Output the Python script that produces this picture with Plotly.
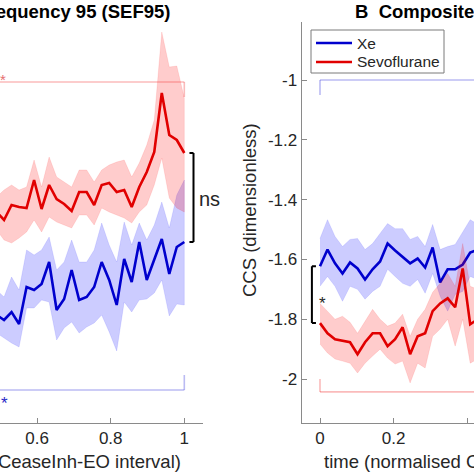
import plotly.graph_objects as go

W = H = 474
FONT = "Liberation Sans, Arial, Helvetica, sans-serif"
TXT = "#262626"
AX = "#8a8a8a"

# ---------------- data ----------------
# normalised time samples (50 samples over 0..1, only visible part kept)
t_left = [0.4898, 0.5102, 0.5306, 0.5510, 0.5714, 0.5918, 0.6122, 0.6327, 0.6531,
          0.6735, 0.6939, 0.7143, 0.7347, 0.7551, 0.7755, 0.7959, 0.8163, 0.8367,
          0.8571, 0.8776, 0.8980, 0.9184, 0.9388, 0.9592, 0.9796, 1.0]
t_right = [0.0, 0.0204, 0.0408, 0.0612, 0.0816, 0.1020, 0.1224, 0.1429, 0.1633,
           0.1837, 0.2041, 0.2245, 0.2449, 0.2653, 0.2857, 0.3061, 0.3265, 0.3469,
           0.3673, 0.3878, 0.4082, 0.4286]

# Panel A: SEF95
sef_sevo_mean = [20.55, 20.15, 20.9, 20.8, 20.75, 22.15, 20.7, 21.9, 21.2, 20.95, 20.6, 21.55, 21.55,
                 20.9, 21.9, 22.0, 21.55, 21.65, 20.8, 21.8, 22.55, 23.55, 26.5, 24.4, 24.15, 23.5]
sef_sevo_hi = [21.3, 21.65, 21.9, 21.65, 21.8, 23.15, 21.8, 23.3, 22.3, 22.05, 21.8, 22.65, 22.65,
               22.05, 22.65, 22.9, 23.05, 23.15, 22.3, 23.0, 23.9, 25.15, 29.55, 27.8, 27.85, 26.25]
sef_sevo_lo = [19.65, 19.15, 19.0, 19.25, 19.55, 20.15, 19.55, 20.3, 20.05, 19.9, 19.75, 20.4, 20.4,
               19.9, 20.75, 20.55, 20.4, 20.25, 20.0, 20.55, 20.9, 21.9, 23.25, 21.25, 20.75, 20.55]
sef_xe_mean = [15.4, 15.15, 15.55, 14.95, 16.8, 16.65, 16.95, 18.05, 15.65, 16.2, 17.65, 16.15, 16.3,
               16.8, 18.05, 17.15, 15.9, 18.2, 17.05, 19.05, 17.15, 18.15, 19.2, 17.45, 18.8, 19.05]
sef_xe_hi = [16.65, 16.3, 17.3, 16.65, 18.65, 18.4, 18.65, 19.3, 17.65, 18.05, 19.15, 18.05, 18.05,
             18.65, 20.0, 18.9, 18.05, 20.05, 18.9, 20.0, 19.15, 19.9, 21.05, 19.75, 21.4, 22.15]
sef_xe_lo = [14.5, 14.25, 14.0, 13.8, 15.75, 15.75, 16.15, 16.05, 14.15, 14.75, 15.05, 14.5, 14.8,
             15.0, 15.4, 14.55, 13.6, 16.05, 15.55, 16.15, 16.2, 16.5, 17.15, 15.35, 15.95, 15.9]

# Panel B: CCS
ccs_xe_mean = [-1.623, -1.567, -1.613, -1.647, -1.61, -1.63, -1.667, -1.633, -1.607, -1.547, -1.57,
               -1.593, -1.613, -1.597, -1.627, -1.56, -1.677, -1.633, -1.633, -1.617, -1.577, -1.567]
ccs_xe_hi = [-1.53, -1.467, -1.523, -1.557, -1.533, -1.53, -1.567, -1.547, -1.513, -1.48, -1.497,
             -1.497, -1.533, -1.523, -1.557, -1.483, -1.567, -1.557, -1.55, -1.507, -1.467, -1.483]
ccs_xe_lo = [-1.69, -1.657, -1.69, -1.74, -1.69, -1.7, -1.733, -1.707, -1.69, -1.633, -1.657,
             -1.68, -1.69, -1.667, -1.713, -1.647, -1.723, -1.773, -1.717, -1.707, -1.657, -1.667]
ccs_sevo_mean = [-1.813, -1.847, -1.867, -1.873, -1.877, -1.917, -1.877, -1.847, -1.847, -1.89, -1.867,
                 -1.827, -1.917, -1.857, -1.847, -1.773, -1.747, -1.73, -1.76, -1.63, -1.817, -1.8]
ccs_sevo_hi = [-1.747, -1.773, -1.8, -1.79, -1.81, -1.847, -1.807, -1.767, -1.8, -1.823, -1.813,
               -1.783, -1.857, -1.8, -1.767, -1.71, -1.68, -1.647, -1.69, -1.547, -1.69, -1.7]
ccs_sevo_lo = [-1.883, -1.913, -1.933, -1.94, -1.947, -1.98, -1.947, -1.923, -1.9, -1.93, -1.95,
               -1.94, -2.013, -1.947, -1.963, -1.857, -1.833, -1.8, -1.89, -1.8, -1.947, -1.933]

x_tickvals = [0, 0.2, 0.4, 0.6, 0.8, 1]
x_ticktext = ["0", "0.2", "0.4", "0.6", "0.8", "1"]
ccs_tickvals = [-2, -1.8, -1.6, -1.4, -1.2, -1]
ccs_ticktext = ["-2", "-1.8", "-1.6", "-1.4", "-1.2", "-1"]

# significance markers (value levels)
sef_sevo_sig = [27.05, 26.3]
sef_xe_sig = [11.65, 12.4]
ccs_xe_sig = [-1.0, -1.05]
ccs_sevo_sig = [-2.043, -2.0]

BLUE = "rgb(0,0,205)"
RED = "rgb(225,0,0)"
BLUE_F = "rgba(0,0,255,0.2)"
RED_F = "rgba(255,0,0,0.2)"
BLUE_E = "rgba(0,0,255,0.12)"
RED_E = "rgba(255,0,0,0.12)"
BLUE_S = "rgba(60,60,220,0.35)"
RED_S = "rgba(240,60,60,0.35)"

fig = go.Figure()


def band(x, hi, lo, fill, edge, xa, ya):
    fig.add_trace(go.Scatter(x=x + x[::-1], y=hi + lo[::-1], fill="toself", fillcolor=fill,
                             line=dict(color=edge, width=0.8), mode="lines",
                             hoverinfo="skip", showlegend=False, xaxis=xa, yaxis=ya))


def line(x, y, color, xa, ya):
    fig.add_trace(go.Scatter(x=x, y=y, mode="lines", line=dict(color=color, width=2.6),
                             showlegend=False, xaxis=xa, yaxis=ya))


band(t_left, sef_xe_hi, sef_xe_lo, BLUE_F, BLUE_E, "x", "y")
line(t_left, sef_xe_mean, BLUE, "x", "y")
band(t_left, sef_sevo_hi, sef_sevo_lo, RED_F, RED_E, "x", "y")
line(t_left, sef_sevo_mean, RED, "x", "y")

band(t_right, ccs_xe_hi, ccs_xe_lo, BLUE_F, BLUE_E, "x2", "y2")
line(t_right, ccs_xe_mean, BLUE, "x2", "y2")
band(t_right, ccs_sevo_hi, ccs_sevo_lo, RED_F, RED_E, "x2", "y2")
line(t_right, ccs_sevo_mean, RED, "x2", "y2")


def PX(x):
    return x / W


def PY(y):
    return 1 - y / H


shapes = []


def seg(xr, yr, x0, y0, x1, y1, color, width):
    shapes.append(dict(type="line", xref=xr, yref=yr, x0=x0, y0=y0, x1=x1, y1=y1,
                       line=dict(color=color, width=width), layer="above"))


# Panel A significance lines
seg("x", "y", 0, sef_sevo_sig[0], 1, sef_sevo_sig[0], RED_S, 1.6)
seg("x", "y", 1, sef_sevo_sig[0], 1, sef_sevo_sig[1], RED_S, 1.6)
seg("x", "y", 0, sef_xe_sig[0], 1, sef_xe_sig[0], BLUE_S, 1.6)
seg("x", "y", 1, sef_xe_sig[0], 1, sef_xe_sig[1], BLUE_S, 1.6)
# ns bracket
seg("x", "y", 1.025, sef_sevo_mean[-1], 1.025, sef_xe_mean[-1], "black", 2)
seg("x", "y", 1.014, sef_sevo_mean[-1], 1.025, sef_sevo_mean[-1], "black", 2)
seg("x", "y", 1.014, sef_xe_mean[-1], 1.025, sef_xe_mean[-1], "black", 2)

# Panel B significance lines
seg("x2", "y2", 0, ccs_xe_sig[0], 1, ccs_xe_sig[0], BLUE_S, 1.6)
seg("x2", "y2", 0, ccs_xe_sig[0], 0, ccs_xe_sig[1], BLUE_S, 1.6)
seg("x2", "y2", 0, ccs_sevo_sig[0], 1, ccs_sevo_sig[0], RED_S, 1.6)
seg("x2", "y2", 0, ccs_sevo_sig[0], 0, ccs_sevo_sig[1], RED_S, 1.6)
# * bracket
seg("x2", "y2", -0.022, ccs_xe_mean[0], -0.022, ccs_sevo_mean[0], "black", 2)
seg("x2", "y2", -0.022, ccs_xe_mean[0], -0.011, ccs_xe_mean[0], "black", 2)
seg("x2", "y2", -0.022, ccs_sevo_mean[0], -0.011, ccs_sevo_mean[0], "black", 2)

# legend (drawn manually, MATLAB style)
shapes.append(dict(type="rect", xref="paper", yref="paper", x0=PX(311), x1=PX(444),
                   y0=PY(73), y1=PY(30), line=dict(color="#7a7a7a", width=1),
                   fillcolor="white", layer="above"))
seg("paper", "paper", PX(316), PY(43), PX(352), PY(43), BLUE, 2.4)
seg("paper", "paper", PX(316), PY(62), PX(352), PY(62), RED, 2.4)

ann = []


def text(s, x, y, size, color=TXT, xanchor="center", yanchor="middle", bold=False, angle=0):
    if bold:
        s = "<b>" + s + "</b>"
    ann.append(dict(text=s, x=PX(x), y=PY(y), xref="paper", yref="paper", showarrow=False,
                    xanchor=xanchor, yanchor=yanchor, textangle=angle,
                    font=dict(family=FONT, size=size, color=color)))


text("A\u00a0\u00a0Spectral Edge Frequency 95 (SEF95)", 172, 11, 18.5, "black", xanchor="right", bold=True)
text("B\u00a0\u00a0Composite Cortical State (CCS)", 353, 11, 18.5, "black", xanchor="left", bold=True)
text("time (normalised CeaseInh-EO interval)", 183, 461, 18.5, TXT, xanchor="right")
text("time (normalised CeaseInh-EO interval)", 322, 461, 18.5, TXT, xanchor="left")
text("CCS (dimensionless)", 250, 210, 18.5, TXT, angle=-90)
text("Xe", 355, 43, 15.5, TXT, xanchor="left")
text("Sevoflurane", 355, 62, 15.5, TXT, xanchor="left")
text("ns", 209, 199, 20, TXT)
text("*", 322, 303, 17, TXT)
text("*", -2, 80, 15, "rgb(230,110,110)", xanchor="left")
text("*", -1, 403, 17, "rgb(40,40,200)", xanchor="left")

fig.update_layout(
    width=W, height=H, autosize=False,
    margin=dict(l=0, r=0, t=0, b=0),
    paper_bgcolor="white", plot_bgcolor="white",
    showlegend=False,
    shapes=shapes, annotations=ann,
    font=dict(family=FONT, size=17, color=TXT),
    xaxis=dict(domain=[0, 202.7 / W], range=[0.4992, 1.05], anchor="y",
               showline=True, linecolor=AX, linewidth=1, ticks="inside", ticklen=5,
               tickcolor=AX, tickvals=x_tickvals, ticktext=x_ticktext, showgrid=False,
               zeroline=False, tickfont=dict(size=17, color=TXT, family=FONT)),
    yaxis=dict(domain=[PY(423), PY(22)], range=[10, 30.05], anchor="x", visible=False,
               showgrid=False, zeroline=False),
    xaxis2=dict(domain=[301.6 / W, 1], range=[-0.05, 0.4185], anchor="y2",
                showline=True, linecolor=AX, linewidth=1, ticks="inside", ticklen=5,
                tickcolor=AX, tickvals=x_tickvals, ticktext=x_ticktext, showgrid=False,
                zeroline=False, tickfont=dict(size=17, color=TXT, family=FONT)),
    yaxis2=dict(domain=[PY(423), PY(22)], range=[-2.147, -0.806], anchor="x2",
                showline=True, linecolor=AX, linewidth=1, ticks="inside", ticklen=5,
                tickcolor=AX, tickvals=ccs_tickvals, ticktext=ccs_ticktext, showgrid=False,
                zeroline=False, tickfont=dict(size=17, color=TXT, family=FONT)),
)

fig.write_html("out.html")
